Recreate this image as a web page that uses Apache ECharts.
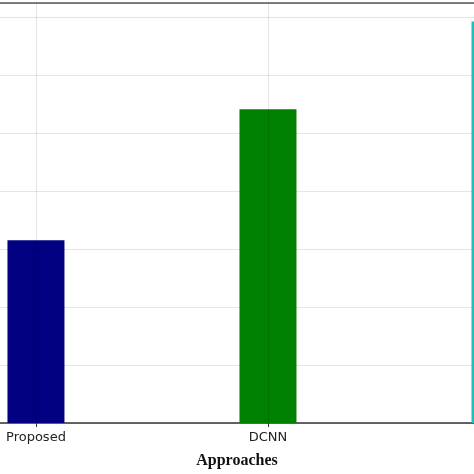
<!DOCTYPE html>
<html>
<head>
<meta charset="utf-8">
<script src="https://cdn.jsdelivr.net/npm/echarts@6/dist/echarts.min.js"></script>
<style>html,body{margin:0;padding:0;background:#fff}#main{width:474px;height:474px}</style>
</head>
<body>
<div id="main"></div>
<script>
// 类别与数值
const categories = ['Proposed', 'DCNN', 'CNN']
const values = [3.15, 5.41, 6.92]
const barColors = ['#000080', '#008000', '#1fbfbf']
const positions = [0, 1, 2]

const myChart = echarts.init(document.getElementById('main'))
myChart.setOption({
    animation: false,
    grid: { left: 0, right: 0, top: 3, bottom: 48 },
    xAxis: [{
        type: 'value',
        min: -0.155,
        max: 1.888,
        name: 'Approaches',
        nameLocation: 'middle',
        nameGap: 30,
        nameTextStyle: { fontFamily: 'Liberation Serif', fontWeight: 'bold', fontSize: 16, color: '#111' },
        axisLine: { show: true, onZero: false, lineStyle: { color: '#333', width: 1.5 } },
        axisTick: { show: true, length: 4, customValues: positions, lineStyle: { color: '#333' } },
        axisLabel: {
            fontFamily: 'DejaVu Sans', fontSize: 13, color: '#222', margin: 8,
            customValues: positions,
            formatter: v => categories[Math.round(v)] || ''
        },
        splitLine: { show: false }
    }, {
        type: 'value',
        position: 'top',
        min: -0.155,
        max: 1.888,
        axisLine: { show: true, onZero: false, lineStyle: { color: '#555', width: 1.5 } },
        axisTick: { show: false },
        axisLabel: { show: false },
        splitLine: { show: false }
    }],
    yAxis: {
        type: 'value',
        min: 0,
        max: 7.24,
        interval: 1,
        axisLine: { show: false },
        axisTick: { show: false },
        axisLabel: { show: false },
        splitLine: { lineStyle: { color: '#e4e4e4' } }
    },
    series: [{
        type: 'bar',
        barWidth: 57,
        clip: false,
        data: values.map((v, i) => ({ value: [positions[i], v], itemStyle: { color: barColors[i] } })),
        markLine: {
            silent: true,
            symbol: 'none',
            label: { show: false },
            lineStyle: { color: '#000', opacity: 0.1, type: 'solid', width: 1 },
            data: positions.map(p => ({ xAxis: p }))
        }
    }]
})
</script>
</body>
</html>
